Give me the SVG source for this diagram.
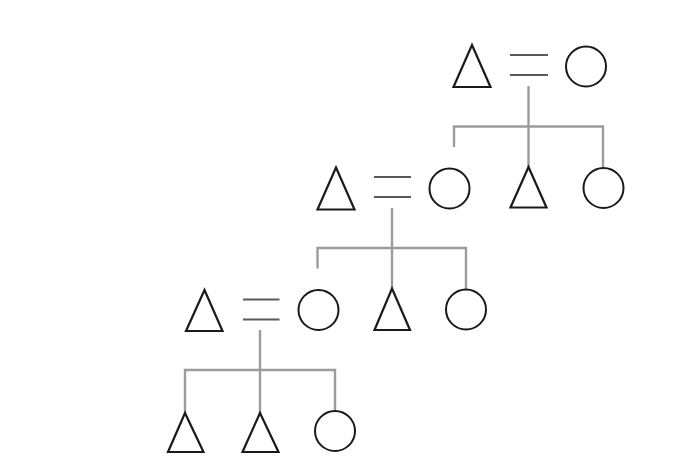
<svg xmlns="http://www.w3.org/2000/svg" width="692" height="476" viewBox="0 0 692 476">
<style>
.m{fill:none;stroke:#1a1a1a;stroke-width:2.2;stroke-linejoin:miter}
.f{fill:none;stroke:#1a1a1a;stroke-width:2}
.c{fill:none;stroke:#9c9c9c;stroke-width:2.4}
.e{fill:none;stroke:#5a5a5a;stroke-width:2}
</style>
<rect width="692" height="476" fill="#ffffff"/>
<g id="connectors">
<!-- top generation -->
<line class="e" x1="510" y1="55" x2="548" y2="55"/>
<line class="e" x1="510" y1="75" x2="548" y2="75"/>
<line class="c" x1="528.5" y1="86" x2="528.5" y2="167"/>
<polyline class="c" points="454,147 454,126.5 603,126.5 603,167"/>
<!-- middle generation -->
<line class="e" x1="374" y1="177" x2="411" y2="177"/>
<line class="e" x1="374" y1="197" x2="411" y2="197"/>
<line class="c" x1="392" y1="208" x2="392" y2="288"/>
<polyline class="c" points="317.5,268.5 317.5,248 466,248 466,289"/>
<!-- bottom generation -->
<line class="e" x1="243" y1="299.5" x2="279.5" y2="299.5"/>
<line class="e" x1="243" y1="319.5" x2="279.5" y2="319.5"/>
<line class="c" x1="260" y1="330" x2="260" y2="413"/>
<polyline class="c" points="185,413 185,370 335,370 335,411"/>
</g>
<g id="top-husband"><polygon class="m" points="472,45 490.5,87 453.5,87"/></g>
<g id="top-wife"><circle class="f" cx="586" cy="66.5" r="20"/></g>
<g id="top-son"><polygon class="m" points="528.5,167 546.5,207.5 510.5,207.5"/></g>
<g id="top-daughter"><circle class="f" cx="603.5" cy="188" r="20"/></g>
<g id="mid-husband"><polygon class="m" points="336,167.5 354.5,209.5 317.5,209.5"/></g>
<g id="mid-wife"><circle class="f" cx="449.5" cy="188.5" r="20"/></g>
<g id="mid-son"><polygon class="m" points="392,288.5 410,330 374.5,330"/></g>
<g id="mid-daughter"><circle class="f" cx="466" cy="309.5" r="20"/></g>
<g id="bottom-husband"><polygon class="m" points="204.5,290 222.5,331 186,331"/></g>
<g id="bottom-wife"><circle class="f" cx="318.5" cy="310" r="20"/></g>
<g id="bottom-son-1"><polygon class="m" points="185,413 203.5,452 168,452"/></g>
<g id="bottom-son-2"><polygon class="m" points="260,413 278.5,452 242.5,452"/></g>
<g id="bottom-daughter"><circle class="f" cx="335" cy="431" r="20"/></g>
</svg>
